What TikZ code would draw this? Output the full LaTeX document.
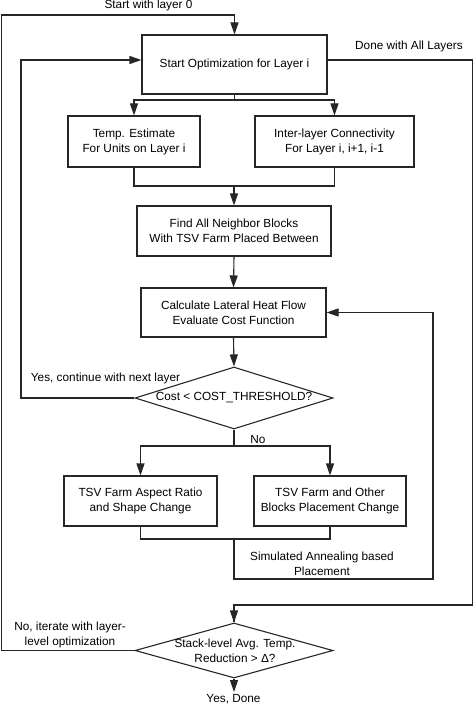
\documentclass[tikz,border=0pt]{standalone}
\usepackage{fontspec}
\setmainfont{Liberation Sans}
\usetikzlibrary{shapes.geometric,arrows.meta}
\begin{document}
\begin{tikzpicture}[x=1pt,y=-1pt,
  every node/.style={font=\fontsize{11.8}{15}\selectfont},
  ln/.style={line width=1.1pt,draw=black!85},
  arr/.style={ln,-{Triangle[length=12pt,width=8pt]}},
  box/.style={draw=black!85,line width=1.1pt,rectangle,align=center,inner sep=0pt},
  dia/.style={draw=black!85,line width=1.1pt,diamond,inner sep=0pt},
  txt/.style={align=center,inner sep=0pt}]
\useasboundingbox (0,0) rectangle (474,706);
% boxes
\node[box,minimum width=185pt,minimum height=59pt] (b1) at (234.5,64.5) {Start Optimization for Layer i};
\node[box,minimum width=132pt,minimum height=51pt] (b2) at (134,141.5) {Temp. Estimate\\For Units on Layer i};
\node[box,minimum width=159pt,minimum height=51pt] (b3) at (334.5,141.5) {Inter-layer Connectivity\\For Layer i, i+1, i-1};
\node[box,minimum width=194pt,minimum height=50pt] (b4) at (234,231) {Find All Neighbor Blocks\\With TSV Farm Placed Between};
\node[box,minimum width=185pt,minimum height=49pt] (b5) at (233.5,312.5) {Calculate Lateral Heat Flow\\Evaluate Cost Function};
\node[dia,minimum width=198pt,minimum height=62pt,aspect=3.19] (d1) at (234,398) {};
\node[txt] (d1t) at (d1.center) {Cost < COST\_THRESHOLD?};
\node[box,minimum width=153pt,minimum height=50pt] (b6) at (140.5,501) {TSV Farm Aspect Ratio\\and Shape Change};
\node[box,minimum width=152pt,minimum height=50pt] (b7) at (330,501) {TSV Farm and Other\\Blocks Placement Change};
\node[dia,minimum width=198pt,minimum height=55pt,aspect=3.6] (d2) at (234,650.5) {};
\node[txt] (d2t) at (235,651) {Stack-level Avg. Temp.\\Reduction > Δ?};
% labels
\node[txt] (l0) at (148.5,5) {Start with layer 0};
\node[txt] (l1) at (409,46) {Done with All Layers};
\node[txt] (l2) at (105.5,378) {Yes, continue with next layer};
\node[txt] (l3) at (258,439) {No};
\node[txt] (l4) at (322,564) {Simulated Annealing based\\Placement};
\node[txt] (l5) at (70,634.5) {No, iterate with layer-\\level optimization};
\node[txt] (l6) at (233.5,699) {Yes, Done};
% coordinates
\coordinate (tl) at (1.5,15);
\coordinate (bl) at (1.5,650.5);
\coordinate (rt) at (472.5,60);
\coordinate (rb) at (472.5,605);
\coordinate (s1) at (234.5,100);
\coordinate (j1) at (234,186);
\coordinate (j2) at (234,446);
\coordinate (j3) at (234,539);
\coordinate (sa) at (433,579);
\coordinate (lp) at (21,60);
\coordinate (e1) at (234,692);
% connectors
\draw[arr] (d2.west) -- (bl) -- (tl) -| (b1.north);
\draw[ln] (b1.east |- rt) -- (rt) -- (rb) -| (d2.north);
\draw[arr] (rb -| d2.north) -- (d2.north);
\draw[arr] (d1.west) -| (lp) -- (b1.west |- lp);
\draw[ln] (b1.south) -- (s1);
\draw[arr] (s1) -| (b2.north);
\draw[arr] (s1) -| (b3.north);
\draw[ln] (b2.south) |- (j1) -| (b3.south);
\draw[arr] (j1) -- (b4.north);
\draw[arr] (b4.south) -- (b5.north);
\draw[arr] (b5.south) -- (d1.north);
\draw[ln] (d1.south) -- (j2);
\draw[arr] (j2) -| (b6.north);
\draw[arr] (j2) -| (b7.north);
\draw[ln] (b6.south) |- (j3) -| (b7.south);
\draw[arr] (j3) |- (sa) |- (b5.east);
\draw[arr] (d2.south) -- (e1);
\end{tikzpicture}
\end{document}
